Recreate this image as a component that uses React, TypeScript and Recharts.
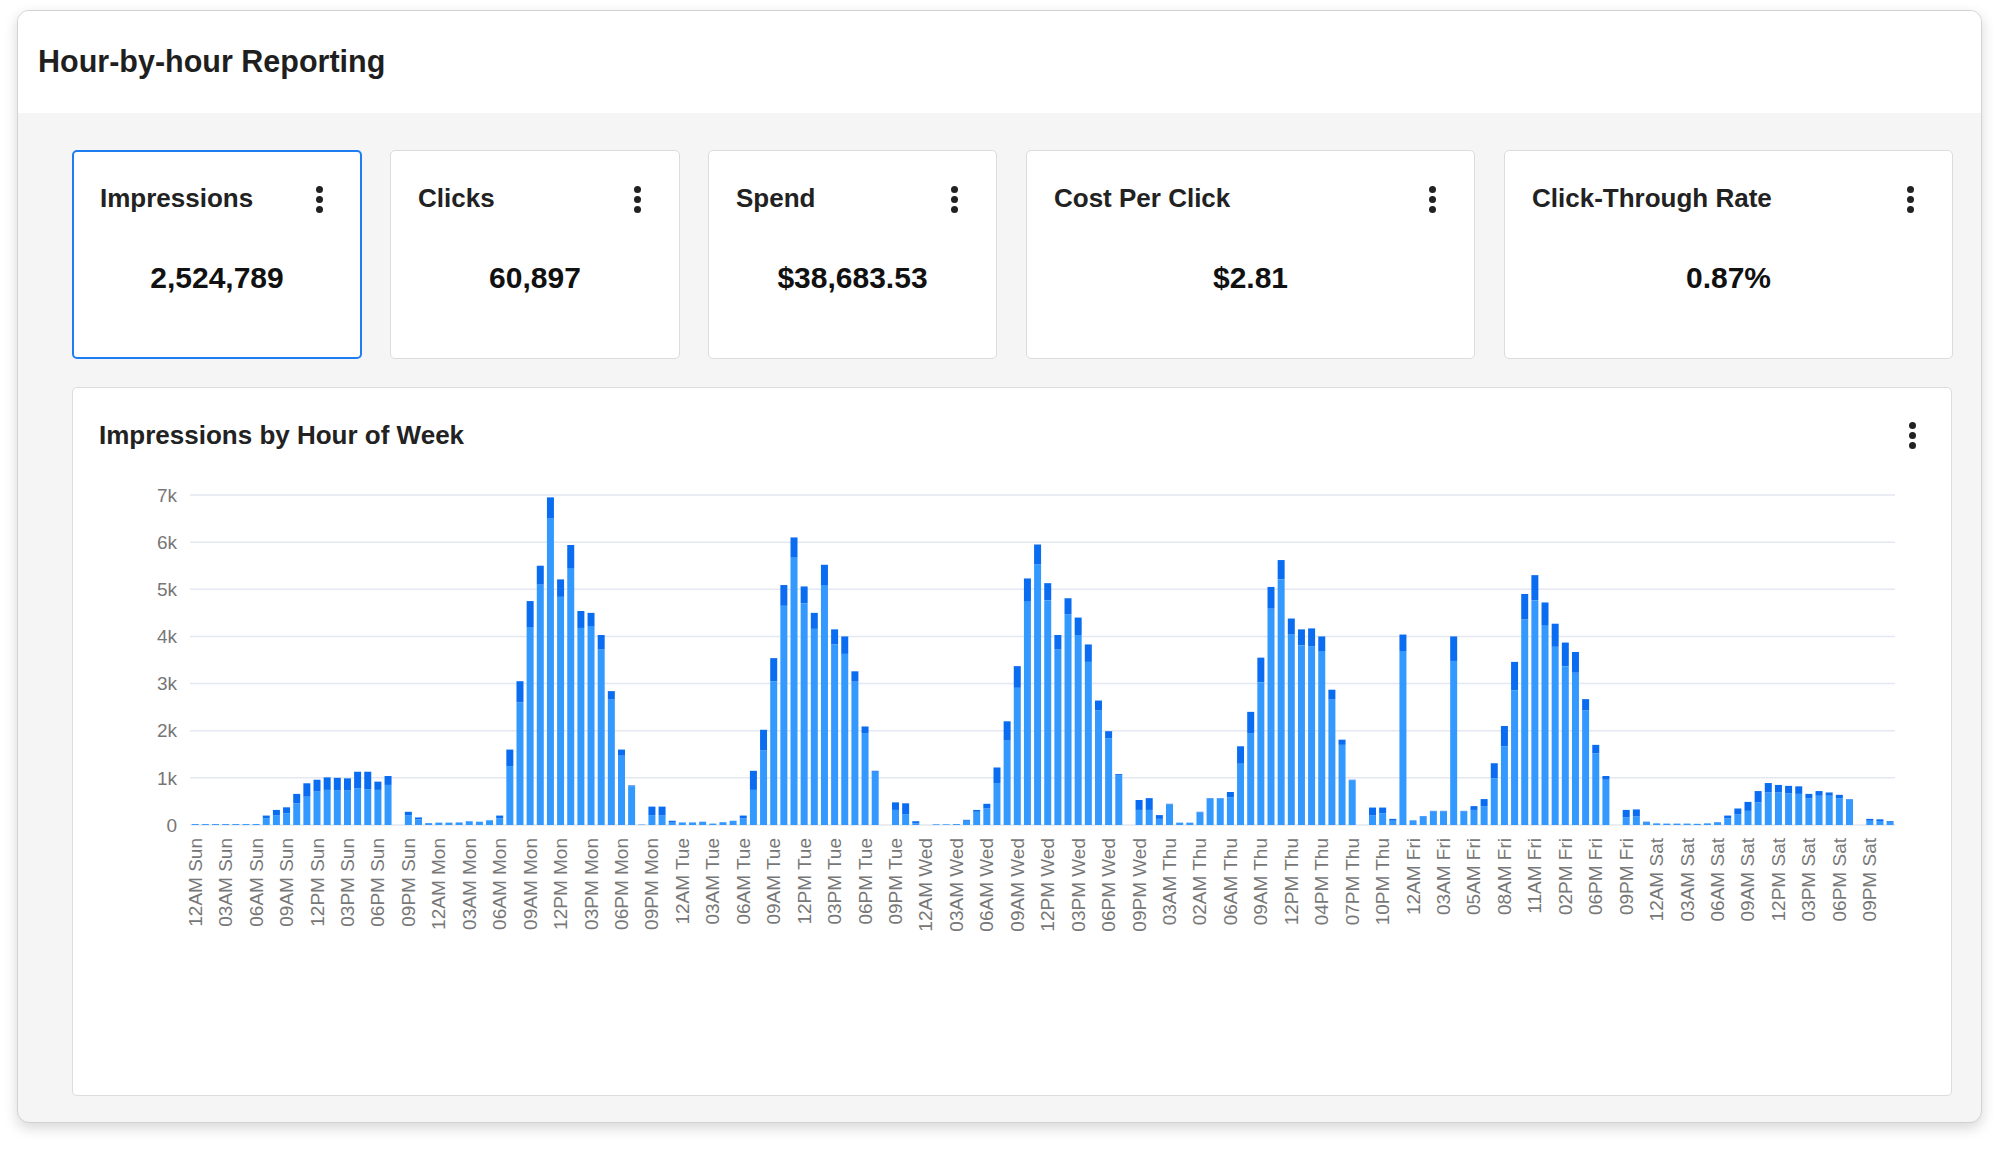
import React from "react";
import { BarChart, Bar, XAxis, YAxis, CartesianGrid } from "recharts";

const FONT = '"Liberation Sans", Arial, Helvetica, sans-serif';

// hour order per day (Thu / Fri rows arrive slightly out of order from the feed)
const hours = [
  "12AM", "01AM", "02AM", "03AM", "04AM", "05AM", "06AM", "07AM", "08AM", "09AM", "10AM", "11AM",
  "12PM", "01PM", "02PM", "03PM", "04PM", "05PM", "06PM", "07PM", "08PM", "09PM", "10PM", "11PM",
];
const thuHours = [
  "03AM", "12AM", "01AM", "02AM", "04AM", "05AM", "06AM", "07AM", "08AM", "09AM", "10AM", "11AM",
  "12PM", "01PM", "03PM", "04PM", "05PM", "06PM", "07PM", "08PM", "09PM", "10PM", "11PM", "02PM",
];
const friHours = [
  "12AM", "01AM", "02AM", "03AM", "03PM", "04AM", "05AM", "06AM", "07AM", "08AM", "09AM", "10AM",
  "11AM", "12PM", "01PM", "02PM", "04PM", "05PM", "06PM", "07PM", "08PM", "09PM", "10PM", "11PM",
];
const days = ["Sun", "Mon", "Tue", "Wed", "Thu", "Fri", "Sat"];

// total impressions per hour
const sunTotal = [20, 20, 20, 20, 20, 20, 20, 200, 320, 375, 660, 885, 960, 1010, 1000, 990, 1130, 1130, 920, 1040, 0, 280, 160, 40];
const monTotal = [50, 50, 55, 80, 70, 100, 200, 1600, 3050, 4750, 5500, 6950, 5210, 5940, 4540, 4500, 4030, 2840, 1600, 840, 10, 390, 390, 90];
const tueTotal = [55, 55, 70, 30, 60, 90, 200, 1150, 2020, 3540, 5090, 6100, 5060, 4500, 5520, 4150, 4000, 3260, 2090, 1150, 0, 480, 460, 80];
const wedTotal = [0, 15, 15, 20, 110, 320, 450, 1220, 2200, 3370, 5230, 5950, 5130, 4030, 4810, 4400, 3830, 2640, 1990, 1080, 0, 530, 570, 210];
const thuTotal = [450, 50, 50, 280, 570, 570, 700, 1670, 2400, 3550, 5050, 5620, 4380, 4150, 4170, 4000, 2870, 1810, 960, 0, 370, 370, 130, 4040];
const friTotal = [100, 190, 300, 300, 4000, 300, 400, 550, 1310, 2100, 3460, 4900, 5300, 4720, 4270, 3870, 3670, 2670, 1700, 1040, 0, 320, 330, 70];
const satTotal = [35, 30, 30, 30, 25, 35, 60, 200, 350, 490, 720, 890, 850, 830, 820, 660, 720, 690, 640, 550, 0, 130, 120, 85];

// lower (light) segment of each stacked bar
const sunLower = [20, 20, 20, 20, 20, 20, 20, 145, 210, 250, 460, 600, 710, 745, 730, 730, 780, 760, 745, 850, 0, 210, 120, 40];
const monLower = [50, 50, 55, 80, 70, 100, 140, 1250, 2600, 4200, 5100, 6500, 4840, 5450, 4180, 4220, 3720, 2660, 1470, 820, 10, 210, 200, 50];
const tueLower = [55, 55, 70, 30, 60, 90, 140, 745, 1580, 3050, 4650, 5670, 4700, 4160, 5090, 3830, 3630, 3040, 1950, 1130, 0, 320, 230, 35];
const wedLower = [0, 15, 15, 20, 90, 280, 350, 890, 1790, 2910, 4750, 5530, 4770, 3720, 4470, 4030, 3460, 2430, 1840, 1060, 0, 320, 320, 130];
const thuLower = [440, 50, 50, 270, 560, 560, 590, 1300, 1950, 3030, 4590, 5210, 4040, 3810, 3790, 3690, 2660, 1700, 950, 0, 200, 250, 90, 3690];
const friLower = [100, 180, 290, 290, 3480, 290, 320, 400, 990, 1670, 2860, 4360, 4770, 4240, 3780, 3370, 3230, 2430, 1520, 960, 0, 160, 180, 50];
const satLower = [35, 30, 30, 30, 25, 35, 50, 140, 230, 300, 480, 690, 690, 670, 660, 570, 620, 620, 570, 540, 0, 90, 85, 70];

const yTicks = [0, 1000, 2000, 3000, 4000, 5000, 6000, 7000];

const kpis = [
  { title: "Impressions", value: "2,524,789", left: 72, width: 290, active: true },
  { title: "Clicks", value: "60,897", left: 390, width: 290 },
  { title: "Spend", value: "$38,683.53", left: 708, width: 289 },
  { title: "Cost Per Click", value: "$2.81", left: 1026, width: 449 },
  { title: "Click-Through Rate", value: "0.87%", left: 1504, width: 449 },
];

const dayHours = [hours, hours, hours, hours, thuHours, friHours, hours];
const dayTotals = [sunTotal, monTotal, tueTotal, wedTotal, thuTotal, friTotal, satTotal];
const dayLowers = [sunLower, monLower, tueLower, wedLower, thuLower, friLower, satLower];

const data = days.flatMap((day, d) =>
  dayHours[d].map((h, i) => ({
    name: `${h} ${day}`,
    lower: dayLowers[d][i],
    upper: dayTotals[d][i] - dayLowers[d][i],
  }))
);

function HourTick({ x, y, payload }: any) {
  const ty = y + 5;
  return (
    <text
      x={x}
      y={ty}
      dy="0.35em"
      transform={`rotate(-90, ${x}, ${ty})`}
      textAnchor="end"
      fill="#777"
      fontSize={19}
      fontFamily={FONT}
    >
      {payload.value}
    </text>
  );
}

function Kebab({ left, top }: { left: number; top: number }) {
  return (
    <div style={{ position: "absolute", left: left - 3.5, top: top - 13.5 }}>
      {[0, 10, 20].map((o) => (
        <div
          key={o}
          style={{
            position: "absolute",
            top: o,
            width: 7,
            height: 7,
            borderRadius: "50%",
            background: "#222",
          }}
        />
      ))}
    </div>
  );
}

function Label({ text, left, cy, size, color = "#222", width, center }: any) {
  const h = Math.round(size * 1.4);
  return (
    <div
      style={{
        position: "absolute",
        left,
        top: cy - h / 2,
        height: h,
        lineHeight: `${h}px`,
        width,
        textAlign: center ? "center" : "left",
        fontSize: size,
        fontWeight: 700,
        color,
        whiteSpace: "nowrap",
      }}
    >
      {text}
    </div>
  );
}

export default function App() {
  return (
    <div
      style={{
        position: "absolute",
        left: 0,
        top: 0,
        width: 1999,
        height: 1149,
        background: "#fff",
        fontFamily: FONT,
        overflow: "hidden",
      }}
    >
      <div
        style={{
          position: "absolute",
          left: 17,
          top: 10,
          width: 1965,
          height: 1113,
          borderRadius: 12,
          border: "1px solid #d2d2d2",
          boxSizing: "border-box",
          background: "#f5f5f5",
          boxShadow: "0 5px 14px rgba(0,0,0,0.16)",
          overflow: "hidden",
        }}
      >
        <div style={{ position: "absolute", left: 0, top: 0, right: 0, height: 102, background: "#fff" }} />
      </div>

      <Label text="Hour-by-hour Reporting" left={38} cy={61} size={30.5} color="#1f1f1f" />

      {kpis.map((k) => (
        <div key={k.title}>
          <div
            style={{
              position: "absolute",
              left: k.left,
              top: 150,
              width: k.width,
              height: 209,
              boxSizing: "border-box",
              background: "#fff",
              borderRadius: 5,
              border: k.active ? "2.5px solid #1f7df3" : "1px solid #dcdcdc",
            }}
          />
          <Label text={k.title} left={k.left + 28} cy={198} size={26} />
          <Kebab left={k.left + k.width - 43} top={199} />
          <Label text={k.value} left={k.left} width={k.width} center cy={278} size={30} color="#111" />
        </div>
      ))}

      <div
        style={{
          position: "absolute",
          left: 72,
          top: 387,
          width: 1880,
          height: 709,
          boxSizing: "border-box",
          background: "#fff",
          borderRadius: 5,
          border: "1px solid #dcdcdc",
        }}
      />
      <Label text="Impressions by Hour of Week" left={99} cy={435} size={26} />
      <Kebab left={1912} top={435} />

      <div style={{ position: "absolute", left: 130, top: 469 }}>
        <BarChart
          width={1780}
          height={481}
          data={data}
          margin={{ top: 26, right: 15, bottom: 5, left: 0 }}
          barCategoryGap="17%"
        >
          <CartesianGrid vertical={false} stroke="#e3e8f1" strokeWidth={1.5} />
          <XAxis
            dataKey="name"
            interval={2}
            axisLine={false}
            tickLine={false}
            height={120}
            tick={<HourTick />}
          />
          <YAxis
            domain={[0, 7000]}
            ticks={yTicks}
            width={60}
            axisLine={false}
            tickLine={false}
            tickMargin={7}
            tickFormatter={(v: number) => (v === 0 ? "0" : `${v / 1000}k`)}
            tick={{ fill: "#777", fontSize: 19, fontFamily: FONT }}
          />
          <Bar dataKey="lower" stackId="imp" fill="#3399ff" isAnimationActive={false} />
          <Bar dataKey="upper" stackId="imp" fill="#0a6cf0" isAnimationActive={false} />
        </BarChart>
      </div>
    </div>
  );
}
